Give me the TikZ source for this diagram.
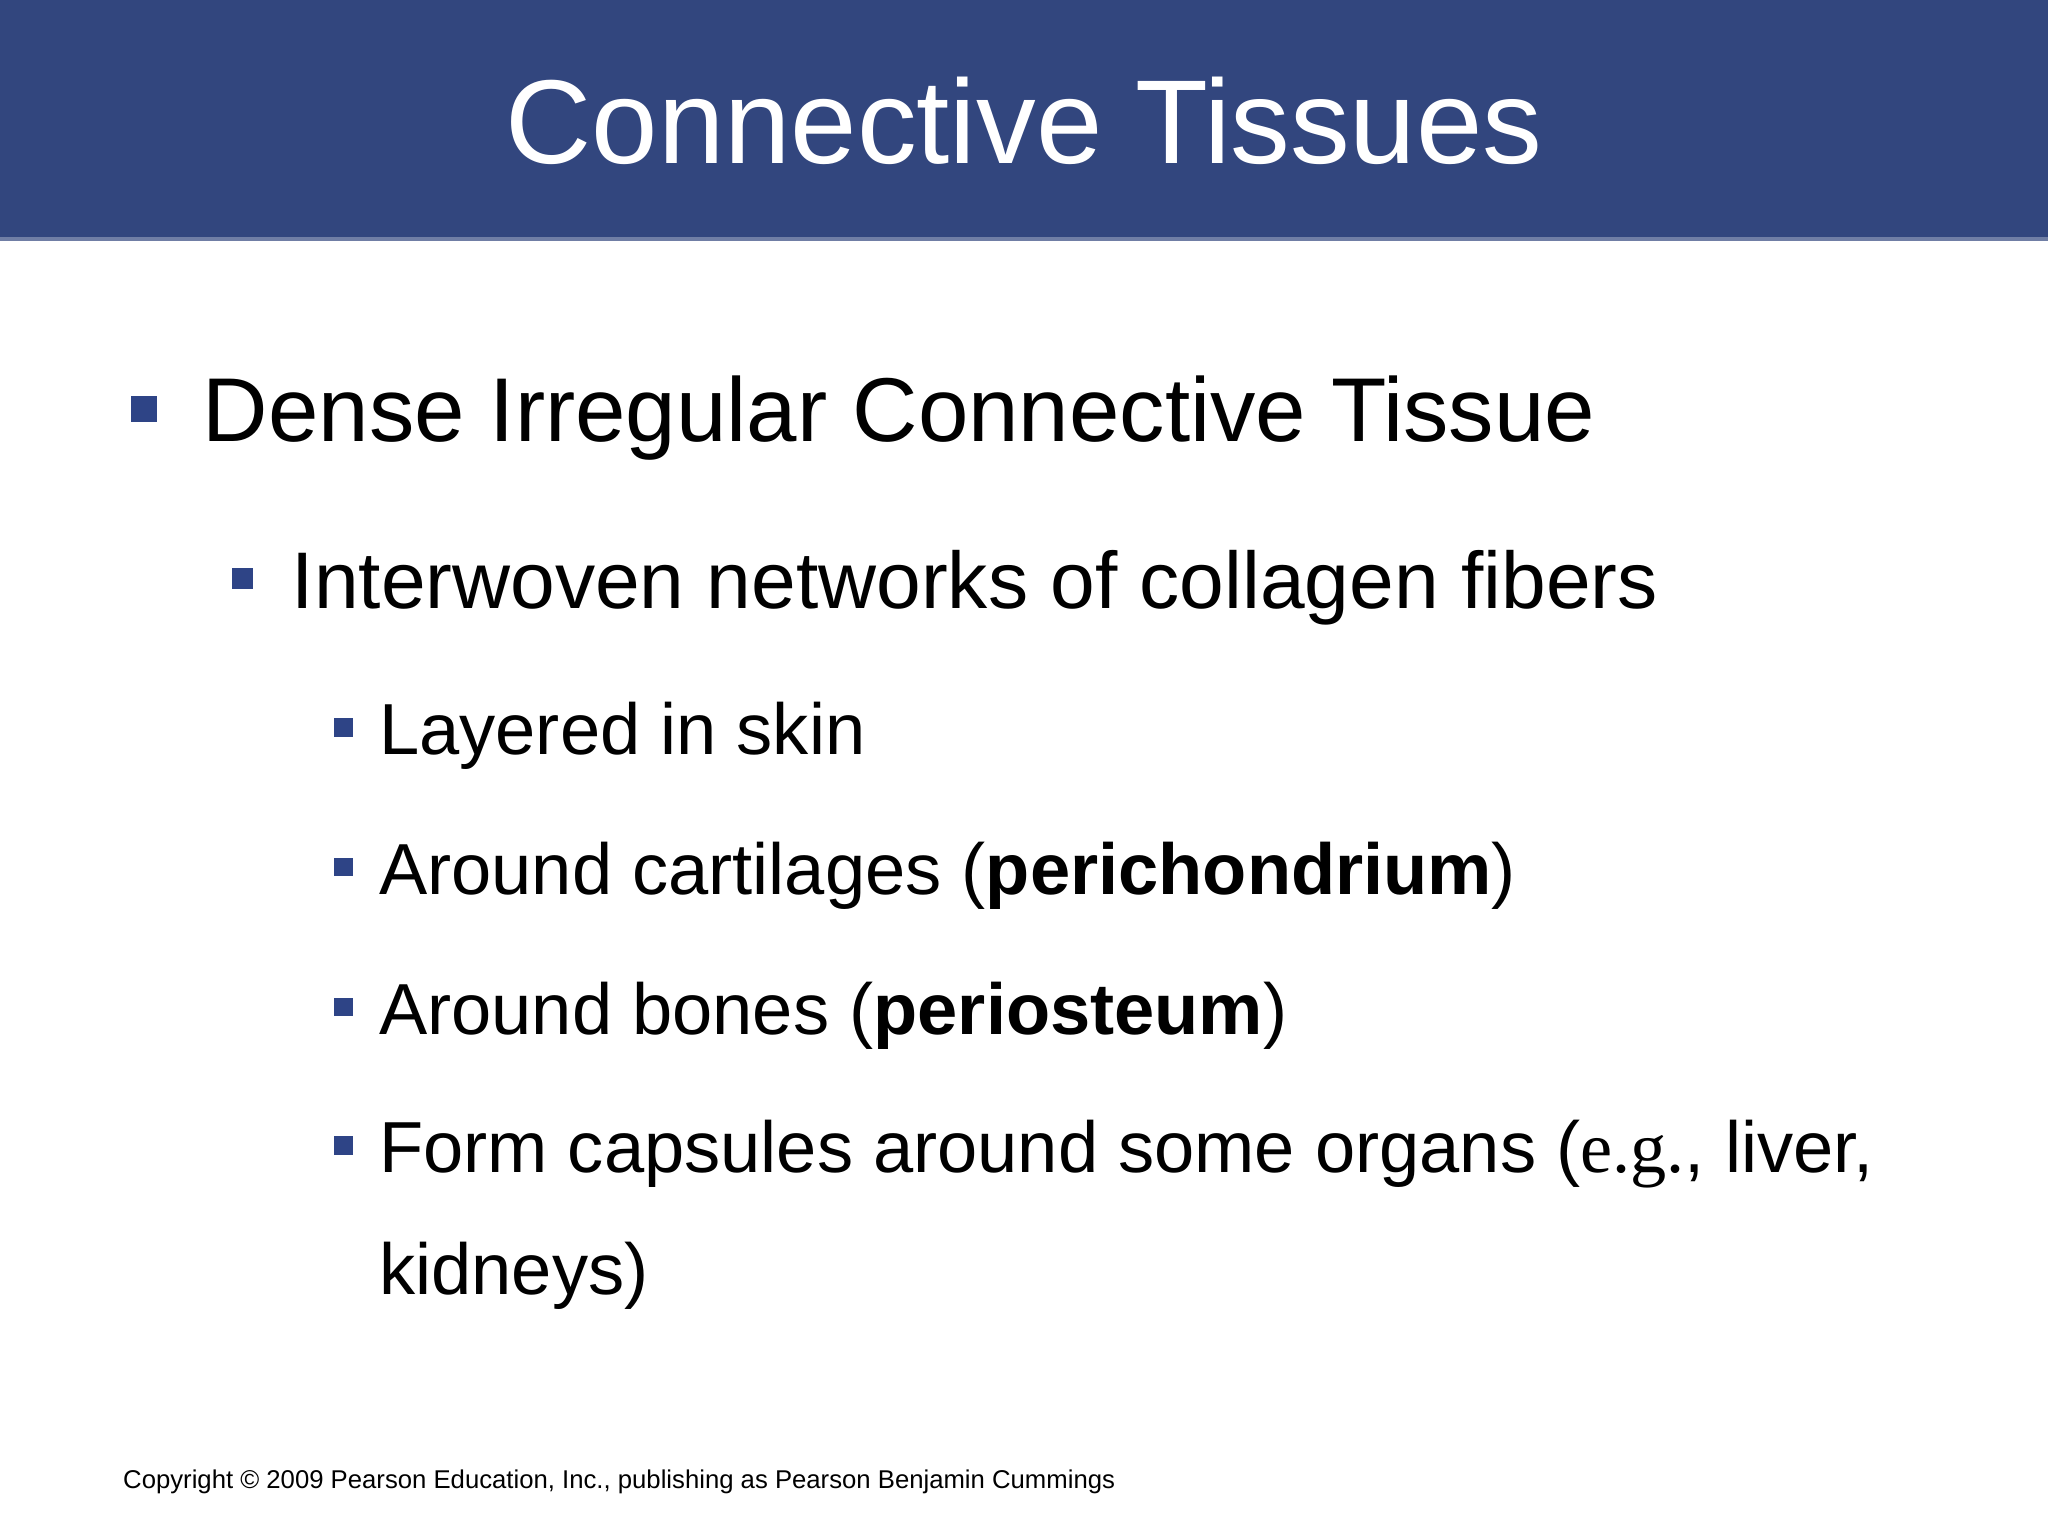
\documentclass[tikz,border=0pt]{standalone}
\usepackage{fontspec}
\setmainfont{Liberation Sans}
\newfontfamily\serifx{Liberation Serif}
\definecolor{hdr}{HTML}{32467E}
\definecolor{bul}{HTML}{2E4486}
\tikzset{txt/.style={anchor=base west,inner sep=0pt,text=black},
 bl/.style={fill=bul,draw=none}}
\begin{document}
\begin{tikzpicture}[x=0.02cm,y=-0.02cm]
\useasboundingbox (0,0) rectangle (1568,1176);
\fill[white] (0,0) rectangle (1568,1176);
\fill[hdr] (0,0) rectangle (1568,183);
\draw[color=hdr!70!white,line width=1.5pt] (0,183) -- (1568,183);
\node[anchor=base,inner sep=0pt,text=white,font=\fontsize{52}{60}\selectfont] (title) at (784,125) {Connective Tissues};
\fill[bl] (100,303) rectangle (120,323);
\node[txt,font=\fontsize{39.5}{46}\selectfont] (l1) at (155,338) {Dense Irregular Connective Tissue};
\fill[bl] (178,435) rectangle (194,451);
\node[txt,font=\fontsize{35}{42}\selectfont] (l2) at (223,466) {Interwoven networks of collagen fibers};
\foreach \y in {550,657,764,870}{\fill[bl] (256,\y) rectangle (270,\y+14);}
\node[txt,font=\fontsize{31.5}{38}\selectfont] (a) at (290,578) {Layered in skin};
\node[txt,font=\fontsize{31.5}{38}\selectfont] (b) at (290,685) {Around cartilages (\textbf{perichondrium})};
\node[txt,font=\fontsize{31.5}{38}\selectfont] (c) at (290,792) {Around bones (\textbf{periosteum})};
\node[txt,font=\fontsize{31.5}{38}\selectfont] (d) at (290,898) {Form capsules around some organs ({\serifx e.g.}, liver,};
\node[txt,font=\fontsize{31.5}{38}\selectfont] (e) at (290,991) {kidneys)};
\node[txt,font=\fontsize{11.2}{13}\selectfont] (copy) at (94,1140) {Copyright © 2009 Pearson Education, Inc., publishing as Pearson Benjamin Cummings};
\end{tikzpicture}
\end{document}
